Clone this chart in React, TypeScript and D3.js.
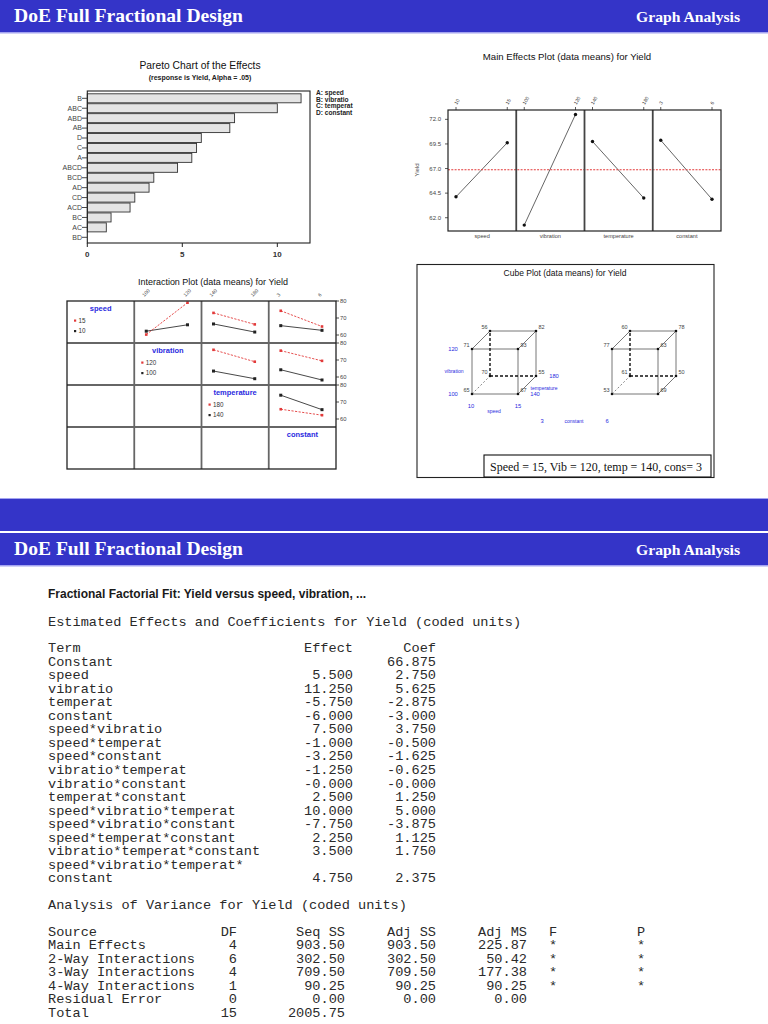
import React from "react";
import * as d3 from "d3";

// ---------- DATA ----------
const paretoTerms = ["B", "ABC", "ABD", "AB", "D", "C", "A", "ABCD", "BCD", "AD", "CD", "ACD", "BC", "AC", "BD"];
const paretoEffects = [11.25, 10, 7.75, 7.5, 6, 5.75, 5.5, 4.75, 3.5, 3.25, 2.5, 2.25, 1.25, 1, 0];
const paretoTicks = [0, 5, 10];
const paretoLegend = ["A: speed", "B: vibratio", "C: temperat", "D: constant"];

const mainFactors = ["speed", "vibration", "temperature", "constant"];
const mainLevels = [["10", "15"], ["100", "120"], ["140", "180"], ["3", "6"]];
const mainLowMeans = [64.125, 61.25, 69.75, 69.875];
const mainHighMeans = [69.625, 72.5, 64.0, 63.875];
const grandMean = 66.875;
const mainTicks = [62, 64.5, 67, 69.5, 72];

const interFactors = ["speed", "vibration", "temperature", "constant"];
const interLegendLevels = [["15", "10"], ["120", "100"], ["180", "140"], []];
const interPairs = [[0, 1], [0, 2], [0, 3], [1, 2], [1, 3], [2, 3]];
const interLowSeries = [[62.25, 66.0], [66.5, 61.75], [65.5, 62.75], [63.5, 59.0], [64.25, 58.25], [74.0, 65.5]];
const interHighSeries = [[60.25, 79.0], [73.0, 66.25], [74.25, 65.0], [76.0, 69.0], [75.5, 69.5], [65.75, 62.25]];
const interTicks = [60, 70, 80];

const cubeSpeedIdx = [0, 0, 0, 0, 1, 1, 1, 1];
const cubeVibIdx = [0, 0, 1, 1, 0, 0, 1, 1];
const cubeTempIdx = [0, 1, 0, 1, 0, 1, 0, 1];
const cubeYieldConst3 = [65, 70, 71, 56, 67, 55, 93, 82];
const cubeYieldConst6 = [53, 61, 77, 60, 69, 50, 63, 78];
const cubeSpeedLevels = ["10", "15"];
const cubeVibLevels = ["100", "120"];
const cubeTempLevels = ["140", "180"];
const cubeConstLevels = ["3", "6"];

const effectTerms = ["Constant", "speed", "vibratio", "temperat", "constant", "speed*vibratio", "speed*temperat", "speed*constant", "vibratio*temperat", "vibratio*constant", "temperat*constant", "speed*vibratio*temperat", "speed*vibratio*constant", "speed*temperat*constant", "vibratio*temperat*constant", "speed*vibratio*temperat*", "constant"];
const effectValues = ["", "5.500", "11.250", "-5.750", "-6.000", "7.500", "-1.000", "-3.250", "-1.250", "-0.000", "2.500", "10.000", "-7.750", "2.250", "3.500", "", "4.750"];
const coefValues = ["66.875", "2.750", "5.625", "-2.875", "-3.000", "3.750", "-0.500", "-1.625", "-0.625", "-0.000", "1.250", "5.000", "-3.875", "1.125", "1.750", "", "2.375"];

const anovaSources = ["Main Effects", "2-Way Interactions", "3-Way Interactions", "4-Way Interactions", "Residual Error", "Total"];
const anovaDF = ["4", "6", "4", "1", "0", "15"];
const anovaSeqSS = ["903.50", "302.50", "709.50", "90.25", "0.00", "2005.75"];
const anovaAdjSS = ["903.50", "302.50", "709.50", "90.25", "0.00", ""];
const anovaAdjMS = ["225.87", "50.42", "177.38", "90.25", "0.00", ""];
const anovaF = ["*", "*", "*", "*", "", ""];
const anovaP = ["*", "*", "*", "*", "", ""];

// ---------- STYLE ----------
const BLUE = "#3434c8";
const LAV = "#a4a4f0";
const SANS = "Liberation Sans, Arial, sans-serif";
const SERIF = "Liberation Serif, Times New Roman, serif";
const MONO = "Liberation Mono, Courier New, monospace";
const RED = "#e23a3a";
const LBLUE = "#2a2ae0";

function Header({ y, h }: { y: number; h: number }) {
  return (
    <g>
      <rect x={0} y={y} width={768} height={h} fill={BLUE} />
      <line x1={0} x2={768} y1={y + h + 0.75} y2={y + h + 0.75} stroke={LAV} strokeWidth={1.5} />
      <text x={14} y={y + 21.8} fill="#fff" fontFamily={SERIF} fontWeight="bold" fontSize={19} textLength={229} lengthAdjust="spacingAndGlyphs">DoE Full Fractional Design</text>
      <text x={740} y={y + 21.5} fill="#fff" fontFamily={SERIF} fontWeight="bold" fontSize={15.5} textAnchor="end" textLength={104} lengthAdjust="spacingAndGlyphs">Graph Analysis</text>
    </g>
  );
}

function Pareto() {
  const x = d3.scaleLinear().domain([0, 11.72]).range([87.3, 310]);
  const y = d3.scalePoint<string>().domain(paretoTerms).range([98.3, 237.3]);
  const bh = 9;
  return (
    <g fontFamily={SANS}>
      <text x={200} y={68.5} textAnchor="middle" fontSize={10.3} fill="#111">Pareto Chart of the Effects</text>
      <text x={200} y={79.5} textAnchor="middle" fontSize={7} fontWeight="bold" fill="#222">(response is Yield, Alpha = .05)</text>
      {paretoTerms.map((t, i) => (
        <rect key={t} x={x(0)} y={(y(t) as number) - bh / 2} width={x(paretoEffects[i]) - x(0)} height={bh} fill="#e4e4e4" stroke="#333" strokeWidth={0.9} />
      ))}
      <rect x={x(0)} y={91} width={310 - x(0)} height={152} fill="none" stroke="#222" strokeWidth={1.1} />
      {paretoTerms.map((t) => (
        <g key={"l" + t}>
          <line x1={82} x2={x(0)} y1={y(t) as number} y2={y(t) as number} stroke="#333" strokeWidth={0.9} />
          <text x={82} y={(y(t) as number) + 2.4} textAnchor="end" fontSize={7} fill="#444">{t}</text>
        </g>
      ))}
      {paretoTicks.map((v) => (
        <g key={"t" + v}>
          <line x1={x(v)} x2={x(v)} y1={243} y2={247} stroke="#222" strokeWidth={1} />
          <text x={x(v)} y={256.5} textAnchor="middle" fontSize={8} fontWeight="bold" fill="#333">{v}</text>
        </g>
      ))}
      {paretoLegend.map((s, i) => (
        <text key={s} x={316} y={95.3 + i * 6.4} fontSize={6.6} fontWeight="bold" fill="#222">{s}</text>
      ))}
    </g>
  );
}

function MainEffects() {
  const px = d3.scaleBand<string>().domain(mainFactors).range([448, 721]);
  const w = px.bandwidth();
  const y = d3.scaleLinear().domain([60.65, 72.95]).range([231, 110]);
  return (
    <g fontFamily={SANS}>
      <text x={567} y={59.5} textAnchor="middle" fontSize={9.6} fill="#111">Main Effects Plot (data means) for Yield</text>
      <text transform={`translate(419,170) rotate(-90)`} textAnchor="middle" fontSize={6} fill="#444">Yield</text>
      {mainTicks.map((v) => (
        <g key={v}>
          <line x1={445} x2={448} y1={y(v)} y2={y(v)} stroke="#333" strokeWidth={0.8} />
          <text x={441} y={y(v) + 2} textAnchor="end" fontSize={6} fill="#444">{v.toFixed(1)}</text>
        </g>
      ))}
      {mainFactors.map((f, i) => {
        const x0 = px(f) as number;
        const lx = d3.scalePoint<string>().domain(mainLevels[i]).range([x0 + 8, x0 + w - 9]);
        const pts: [number, number][] = [
          [lx(mainLevels[i][0]) as number, y(mainLowMeans[i])],
          [lx(mainLevels[i][1]) as number, y(mainHighMeans[i])],
        ];
        return (
          <g key={f}>
            <path d={d3.line()(pts) as string} stroke="#555" strokeWidth={0.9} fill="none" />
            {pts.map((p, j) => (
              <circle key={j} cx={p[0]} cy={p[1]} r={1.7} fill="#111" />
            ))}
            {mainLevels[i].map((l) => (
              <g key={l}>
                <line x1={lx(l) as number} x2={lx(l) as number} y1={107} y2={110} stroke="#333" strokeWidth={0.8} />
                <text transform={`translate(${(lx(l) as number) + 1},${105}) rotate(-60)`} fontSize={5} fill="#444">{l}</text>
              </g>
            ))}
            <text x={x0 + w / 2} y={237.5} textAnchor="middle" fontSize={5.6} fill="#444">{f}</text>
          </g>
        );
      })}
      <line x1={448} x2={721} y1={y(grandMean)} y2={y(grandMean)} stroke={RED} strokeWidth={1.1} strokeDasharray="2,1.3" />
      {mainFactors.slice(1).map((f) => (
        <line key={f} x1={px(f) as number} x2={px(f) as number} y1={110} y2={231} stroke="#444" strokeWidth={1.8} />
      ))}
      <rect x={448} y={110} width={273} height={121} fill="none" stroke="#222" strokeWidth={1.2} />
    </g>
  );
}

function Interaction() {
  const col = d3.scaleBand<string>().domain(interFactors).range([67, 336]);
  const row = d3.scaleBand<string>().domain(interFactors).range([301, 469]);
  const cw = col.bandwidth();
  const rh = row.bandwidth();
  return (
    <g fontFamily={SANS}>
      <text x={213} y={285} textAnchor="middle" fontSize={9} fill="#111" textLength={150} lengthAdjust="spacingAndGlyphs">Interaction Plot (data means) for Yield</text>
      {interFactors.slice(1).map((f, ci) => {
        const x0 = col(f) as number;
        const lx = d3.scalePoint<string>().domain(mainLevels[ci + 1]).range([x0 + 12, x0 + cw - 14]);
        return mainLevels[ci + 1].map((l) => (
          <text key={f + l} transform={`translate(${(lx(l) as number) - 2},${297}) rotate(-45)`} fontSize={5} fill="#444">{l}</text>
        ));
      })}
      {interPairs.map(([r, c], k) => {
        const x0 = col(interFactors[c]) as number;
        const y0 = row(interFactors[r]) as number;
        const lx = d3.scalePoint<string>().domain(mainLevels[c]).range([x0 + 12, x0 + cw - 14]);
        const yy = d3.scaleLinear().domain([55.3, 80]).range([y0 + rh, y0]);
        const xs = mainLevels[c].map((l) => lx(l) as number);
        const low: [number, number][] = xs.map((xv, j) => [xv, yy(interLowSeries[k][j])]);
        const high: [number, number][] = xs.map((xv, j) => [xv, yy(interHighSeries[k][j])]);
        return (
          <g key={k}>
            <path d={d3.line()(low) as string} stroke="#333" strokeWidth={0.9} fill="none" />
            <path d={d3.line()(high) as string} stroke={RED} strokeWidth={0.9} fill="none" strokeDasharray="2.2,1.4" />
            {low.map((p, j) => <rect key={"a" + j} x={p[0] - 1.5} y={p[1] - 1.5} width={3} height={3} fill="#222" />)}
            {high.map((p, j) => <rect key={"b" + j} x={p[0] - 1.3} y={p[1] - 1.3} width={2.6} height={2.6} fill={RED} />)}
          </g>
        );
      })}
      {interFactors.map((f, i) => {
        const x0 = col(f) as number;
        const y0 = row(f) as number;
        return (
          <g key={"lg" + f}>
            <text x={x0 + cw / 2} y={y0 + 10} textAnchor="middle" fontSize={7.5} fontWeight="bold" fill={LBLUE}>{f}</text>
            {interLegendLevels[i].map((l, j) => (
              <g key={l}>
                <rect x={x0 + 7} y={y0 + 18.5 + j * 10.5} width={2.2} height={2.2} fill={j === 0 ? RED : "#222"} />
                <text x={x0 + 11.5} y={y0 + 21.7 + j * 10.5} fontSize={6.3} fill="#333">{l}</text>
              </g>
            ))}
          </g>
        );
      })}
      {interFactors.slice(0, 3).map((f) => {
        const y0 = row(f) as number;
        const yy = d3.scaleLinear().domain([55.3, 80]).range([y0 + rh, y0]);
        return interTicks.map((t) => (
          <g key={f + t}>
            <line x1={336} x2={339} y1={yy(t)} y2={yy(t)} stroke="#222" strokeWidth={0.8} />
            <text x={340} y={yy(t) + 2} fontSize={5.8} fill="#444">{t}</text>
          </g>
        ));
      })}
      {interFactors.slice(1).map((f) => (
        <g key={"g" + f}>
          <line x1={col(f) as number} x2={col(f) as number} y1={301} y2={469} stroke="#666" strokeWidth={1.8} />
          <line x1={67} x2={336} y1={row(f) as number} y2={row(f) as number} stroke="#666" strokeWidth={1.8} />
        </g>
      ))}
      <rect x={67} y={301} width={269} height={168} fill="none" stroke="#222" strokeWidth={1.3} />
    </g>
  );
}

function Cube({ ox, values }: { ox: number; values: number[] }) {
  const sx = d3.scalePoint<string>().domain(cubeSpeedLevels).range([0, 46]);
  const vy = d3.scalePoint<string>().domain(cubeVibLevels).range([0, -45]);
  const td = d3.scalePoint<string>().domain(cubeTempLevels).range([0, 18]);
  const oy = 394;
  const pos = (s: number, v: number, t: number): [number, number] => [
    ox + (sx(cubeSpeedLevels[s]) as number) + (td(cubeTempLevels[t]) as number),
    oy + (vy(cubeVibLevels[v]) as number) - (td(cubeTempLevels[t]) as number),
  ];
  const solid: [number[], number[]][] = [
    [[0, 0, 0], [1, 0, 0]], [[0, 1, 0], [1, 1, 0]], [[0, 0, 0], [0, 1, 0]], [[1, 0, 0], [1, 1, 0]],
    [[0, 1, 1], [1, 1, 1]], [[1, 0, 1], [1, 1, 1]],
    [[0, 1, 0], [0, 1, 1]], [[1, 1, 0], [1, 1, 1]], [[1, 0, 0], [1, 0, 1]],
  ];
  const hidden: [number[], number[]][] = [[[0, 0, 1], [0, 1, 1]], [[0, 0, 1], [1, 0, 1]]];
  const ln = (e: [number[], number[]]) => d3.line()([pos(e[0][0], e[0][1], e[0][2]), pos(e[1][0], e[1][1], e[1][2])]) as string;
  return (
    <g>
      {solid.map((e, i) => <path key={i} d={ln(e)} stroke="#777" strokeWidth={1} fill="none" />)}
      {hidden.map((e, i) => <path key={"h" + i} d={ln(e)} stroke="#111" strokeWidth={1.4} strokeDasharray="3,2" fill="none" />)}
      <path d={ln([[0, 0, 0], [0, 0, 1]])} stroke="#333" strokeWidth={0.6} strokeDasharray="2,2" fill="none" />
      {values.map((v, i) => {
        const p = pos(cubeSpeedIdx[i], cubeVibIdx[i], cubeTempIdx[i]);
        const right = cubeSpeedIdx[i] === 1;
        return (
          <g key={i}>
            <circle cx={p[0]} cy={p[1]} r={1.3} fill="#111" />
            <text x={p[0] + (right ? 2.5 : -2.5)} y={p[1] - 2.5} textAnchor={right ? "start" : "end"} fontSize={5.5} fill="#444" fontFamily={SANS}>{v}</text>
          </g>
        );
      })}
    </g>
  );
}

function CubePlot() {
  return (
    <g fontFamily={SANS}>
      <rect x={417} y={264.5} width={297} height={213} fill="none" stroke="#222" strokeWidth={1.1} />
      <text x={565} y={276} textAnchor="middle" fontSize={8.5} fill="#111">Cube Plot (data means) for Yield</text>
      <Cube ox={472} values={cubeYieldConst3} />
      <Cube ox={612} values={cubeYieldConst6} />
      <g fontSize={5.8} fill={LBLUE}>
        <text x={453} y={351} textAnchor="middle">{cubeVibLevels[1]}</text>
        <text x={454} y={373} textAnchor="middle" fontSize={5}>vibration</text>
        <text x={453} y={396} textAnchor="middle">{cubeVibLevels[0]}</text>
        <text x={471} y={408} textAnchor="middle">{cubeSpeedLevels[0]}</text>
        <text x={494} y={413} textAnchor="middle" fontSize={5}>speed</text>
        <text x={518} y={408} textAnchor="middle">{cubeSpeedLevels[1]}</text>
        <text x={554} y={378} textAnchor="middle">{cubeTempLevels[1]}</text>
        <text x={544} y={390} textAnchor="middle" fontSize={5}>temperature</text>
        <text x={535} y={396} textAnchor="middle">{cubeTempLevels[0]}</text>
        <text x={542} y={423} textAnchor="middle">{cubeConstLevels[0]}</text>
        <text x={574} y={423} textAnchor="middle" fontSize={5}>constant</text>
        <text x={607} y={423} textAnchor="middle">{cubeConstLevels[1]}</text>
      </g>
      <rect x={484} y={455} width={227} height={22} fill="#fff" stroke="#111" strokeWidth={1.1} />
      <text x={490} y={470.5} fontFamily={SERIF} fontSize={13} fill="#111" textLength={212} lengthAdjust="spacingAndGlyphs">Speed = 15, Vib = 120, temp = 140, cons= 3</text>
    </g>
  );
}

function TextSection() {
  const lh = 13.55;
  const termY0 = 652;
  const anovaY0 = 935.5;
  return (
    <g fill="#1a1a1a">
      <text x={48} y={598} fontFamily={SANS} fontWeight="bold" fontSize={12}>Fractional Factorial Fit: Yield versus speed, vibration, ...</text>
      <g fontFamily={MONO} fontSize={13.6} fill="#2a2a2a">
        <text x={48} y={625.5}>Estimated Effects and Coefficients for Yield (coded units)</text>
        <text x={48} y={termY0}>Term</text>
        <text x={353} y={termY0} textAnchor="end">Effect</text>
        <text x={436} y={termY0} textAnchor="end">Coef</text>
        {effectTerms.map((t, i) => (
          <g key={i}>
            <text x={48} y={termY0 + (i + 1) * lh}>{t}</text>
            <text x={353} y={termY0 + (i + 1) * lh} textAnchor="end">{effectValues[i]}</text>
            <text x={436} y={termY0 + (i + 1) * lh} textAnchor="end">{coefValues[i]}</text>
          </g>
        ))}
        <text x={48} y={909}>Analysis of Variance for Yield (coded units)</text>
        <text x={48} y={anovaY0}>Source</text>
        <text x={237} y={anovaY0} textAnchor="end">DF</text>
        <text x={345} y={anovaY0} textAnchor="end">Seq SS</text>
        <text x={436} y={anovaY0} textAnchor="end">Adj SS</text>
        <text x={527} y={anovaY0} textAnchor="end">Adj MS</text>
        <text x={553} y={anovaY0} textAnchor="middle">F</text>
        <text x={641} y={anovaY0} textAnchor="middle">P</text>
        {anovaSources.map((s, i) => {
          const yy = anovaY0 + (i + 1) * lh;
          return (
            <g key={s}>
              <text x={48} y={yy}>{s}</text>
              <text x={237} y={yy} textAnchor="end">{anovaDF[i]}</text>
              <text x={345} y={yy} textAnchor="end">{anovaSeqSS[i]}</text>
              <text x={436} y={yy} textAnchor="end">{anovaAdjSS[i]}</text>
              <text x={527} y={yy} textAnchor="end">{anovaAdjMS[i]}</text>
              <text x={553} y={yy} textAnchor="middle">{anovaF[i]}</text>
              <text x={641} y={yy} textAnchor="middle">{anovaP[i]}</text>
            </g>
          );
        })}
      </g>
    </g>
  );
}

export default function App() {
  return (
    <svg width={768} height={1024} viewBox="0 0 768 1024" style={{ position: "absolute", left: 0, top: 0, background: "#fff" }}>
      <rect x={0} y={0} width={768} height={1024} fill="#fff" />
      <Header y={0} h={32} />
      <Pareto />
      <MainEffects />
      <Interaction />
      <CubePlot />
      <rect x={0} y={499} width={768} height={32} fill={BLUE} />
      <line x1={0} x2={768} y1={498.5} y2={498.5} stroke={LAV} strokeWidth={1} />
      <Header y={533} h={32} />
      <TextSection />
    </svg>
  );
}
